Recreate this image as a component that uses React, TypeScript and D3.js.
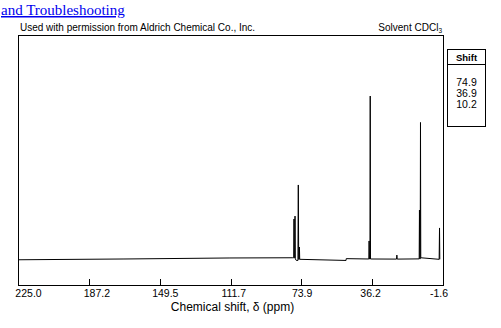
import React from "react";
import * as d3 from "d3";

// Axis ticks (ppm) and their printed labels
const tickValues = [225.0, 187.2, 149.5, 111.7, 73.9, 36.2, -1.6];
const tickLabels = ["225.0", "187.2", "149.5", "111.7", "73.9", "36.2", "-1.6"];

// Peak table
const shiftTable = ["74.9", "36.9", "10.2"];

// Spectrum trace: chemical shift (ppm) and intensity (a.u.)
const traceShift = [
  225.0, 168.5, 112.0, 78.8,
  78.0, 77.85, 77.7, 77.45, 77.3, 77.15, 76.6,
  75.75, 75.55, 75.35, 75.1, 74.95, 74.8,
  50.1, 50.0,
  37.95, 37.8, 37.6, 37.35, 37.2, 37.05,
  23.2, 23.0, 22.8,
  11.1, 10.95, 10.75, 10.55, 10.4, 10.25,
  0.45, 0.25, 0.1,
];
const traceIntensity = [
  0.1, 0.45, 0.9, 1.0,
  1.0, 18.3, 1.0, 1.0, 19.6, 0.5, -0.2,
  -0.2, 33.5, 0.3, 0.3, 5.8, 0.3,
  -0.2, 0.6,
  0.45, 8.5, 0.45, 0.45, 73.2, 0.45,
  0.4, 2.2, 0.4,
  0.5, 22.3, 0.5, 0.5, 61.4, 1.0,
  0.3, 14.3, 0.3,
];

const W = 501;
const H = 328;
const left = 18;
const right = 443;
const top = 35;
const bottom = 285;

const sans = "'Liberation Sans', Arial, Helvetica, sans-serif";
const serif = "'Liberation Serif', 'Times New Roman', serif";

export default function App() {
  const x = d3.scaleLinear().domain([225, -1.6]).range([left, right]);
  const y = d3.scaleLinear().domain([0, 100]).range([260, 36]);
  const labelX = d3.scalePoint<string>().domain(tickLabels).range([28.5, 439]);

  const pts: [number, number][] = traceShift.map((s, i) => [s, traceIntensity[i]]);
  const line = d3
    .line<[number, number]>()
    .x((d) => x(d[0]))
    .y((d) => y(d[1]));

  return (
    <svg
      width={W}
      height={H}
      style={{ position: "absolute", left: 0, top: 0, background: "#fff" }}
    >
      <text
        x={1}
        y={15}
        fontFamily={serif}
        fontSize={15}
        fill="#0000EE"
        textDecoration="underline"
      >
        and Troubleshooting
      </text>

      <text x={20} y={31} fontFamily={sans} fontSize={10} fill="#000">
        Used with permission from Aldrich Chemical Co., Inc.
      </text>
      <text x={442} y={31} fontFamily={sans} fontSize={10} fill="#000" textAnchor="end">
        Solvent CDCl
        <tspan fontSize={6.5} dy={1.5}>3</tspan>
      </text>

      {/* frame */}
      <rect
        x={left + 0.5}
        y={top + 0.5}
        width={right - left}
        height={bottom - top}
        fill="none"
        stroke="#000"
        strokeWidth={1}
      />

      {/* ticks */}
      {tickValues.map((v, i) => (
        <line
          key={"t" + i}
          x1={Math.round(x(v)) + 0.5}
          x2={Math.round(x(v)) + 0.5}
          y1={bottom + 0.5}
          y2={bottom - 6}
          stroke="#000"
          strokeWidth={1}
        />
      ))}
      {tickLabels.map((l) => (
        <text
          key={"l" + l}
          x={labelX(l)}
          y={297}
          fontFamily={sans}
          fontSize={10.5}
          textAnchor="middle"
          fill="#000"
        >
          {l}
        </text>
      ))}
      <text
        x={232.5}
        y={311}
        fontFamily={sans}
        fontSize={12}
        textAnchor="middle"
        fill="#000"
      >
        Chemical shift, δ (ppm)
      </text>

      {/* spectrum */}
      <path d={line(pts) || ""} fill="none" stroke="#000" strokeWidth={1} />

      {/* shift table */}
      <rect x={447.5} y={49.5} width={38} height={77} fill="#fff" stroke="#000" strokeWidth={1} />
      <line x1={447.5} x2={485.5} y1={64.5} y2={64.5} stroke="#000" strokeWidth={1} />
      <text
        x={466.5}
        y={61}
        fontFamily={sans}
        fontSize={9.5}
        fontWeight="bold"
        textAnchor="middle"
        fill="#000"
      >
        Shift
      </text>
      {shiftTable.map((s, i) => (
        <text
          key={"s" + s}
          x={466.5}
          y={85.5 + i * 11}
          fontFamily={sans}
          fontSize={10.5}
          textAnchor="middle"
          fill="#000"
        >
          {s}
        </text>
      ))}
    </svg>
  );
}
